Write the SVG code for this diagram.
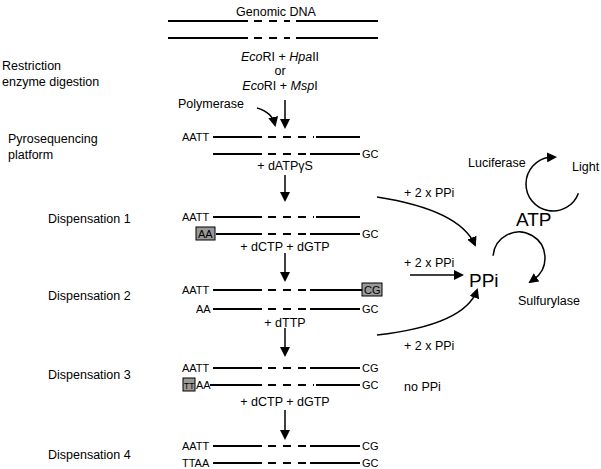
<svg xmlns="http://www.w3.org/2000/svg" width="601" height="469" viewBox="0 0 601 469">
<style>
text{font-family:"Liberation Sans",Arial,sans-serif;font-size:12.5px;fill:#000}
.s{font-size:11px}
.b{font-size:19px}
.l{stroke:#000;stroke-width:2;fill:none}
.d{stroke:#000;stroke-width:2;fill:none;stroke-dasharray:8,7}
.a{stroke:#000;stroke-width:1.5;fill:none;marker-end:url(#ah)}
.box{fill:#999;stroke:#000;stroke-width:1}
</style>
<defs>
<marker id="ah" markerWidth="10" markerHeight="10" refX="8" refY="5" orient="auto" markerUnits="userSpaceOnUse"><path d="M0,0 L10,5 L0,10 z"/></marker>
</defs>
<rect width="601" height="469" fill="#fff"/>
<g id="labels">
<text x="276" y="16" text-anchor="middle">Genomic DNA</text>
<text x="2" y="70">Restriction</text><text x="2" y="86">enzyme digestion</text>
<text x="8" y="143">Pyrosequencing</text><text x="8" y="159">platform</text>
<text x="48" y="223">Dispensation 1</text>
<text x="48" y="300">Dispensation 2</text>
<text x="48" y="379">Dispensation 3</text>
<text x="48" y="459">Dispensation 4</text>
<text x="280" y="61" text-anchor="middle"><tspan font-style="italic">Eco</tspan>RI + <tspan font-style="italic">Hpa</tspan>II</text>
<text x="280" y="75" text-anchor="middle">or</text>
<text x="280" y="90" text-anchor="middle"><tspan font-style="italic">Eco</tspan>RI + <tspan font-style="italic">Msp</tspan>I</text>
<text x="178" y="108">Polymerase</text>
<text x="285" y="170" text-anchor="middle">+ dATPγS</text>
<text x="285" y="251" text-anchor="middle">+ dCTP + dGTP</text>
<text x="285" y="327" text-anchor="middle">+ dTTP</text>
<text x="285" y="406" text-anchor="middle">+ dCTP + dGTP</text>
<text x="404" y="197">+ 2 x PPi</text>
<text x="404" y="267">+ 2 x PPi</text>
<text x="404" y="350">+ 2 x PPi</text>
<text x="404" y="391">no PPi</text>
<text x="469" y="287" class="b">PPi</text>
<text x="516" y="226" class="b">ATP</text>
<text x="468" y="167">Luciferase</text>
<text x="572" y="171">Light</text>
<text x="518" y="305">Sulfurylase</text>
</g>
<g id="genomic">
<path class="l" d="M168,21H248M296,21H378M168,38H248M296,38H378"/>
<path class="d" d="M254,21H290M254,38H290"/>
</g>
<g id="pyro">
<text x="182" y="141" class="s">AATT</text>
<path class="l" d="M213,137H262M316,137H360M213,154H262M310,154H360"/>
<path class="d" d="M268,137H314M268,154H306"/>
<text x="362" y="158" class="s">GC</text>
</g>
<g id="d1">
<text x="182" y="221" class="s">AATT</text>
<path class="l" d="M213,217H262M316,217H360M216,234H262M310,234H360"/>
<path class="d" d="M268,217H314M268,234H306"/>
<rect class="box" x="196" y="227" width="19" height="13"/><text x="198" y="238" class="s">AA</text>
<text x="362" y="238" class="s">GC</text>
</g>
<g id="d2">
<text x="182" y="294" class="s">AATT</text>
<path class="l" d="M213,290H262M310,290H362M213,309H262M310,309H360"/>
<path class="d" d="M268,290H306M268,309H306"/>
<rect class="box" x="362" y="283" width="20" height="13"/><text x="364" y="294" class="s">CG</text>
<text x="196" y="313" class="s">AA</text>
<text x="362" y="313" class="s">GC</text>
</g>
<g id="d3">
<text x="182" y="372" class="s">AATT</text>
<path class="l" d="M213,368H262M310,368H360M210,385H262M316,385H360"/>
<path class="d" d="M268,368H306M268,385H314"/>
<text x="362" y="372" class="s">CG</text>
<rect class="box" x="183" y="378" width="12" height="13"/><text x="184" y="389" style="font-size:8.5px">TT</text>
<text x="196" y="389" class="s">AA</text>
<text x="362" y="389" class="s">GC</text>
</g>
<g id="d4">
<text x="182" y="450" class="s">AATT</text>
<path class="l" d="M213,446H262M310,446H360M213,463H262M310,463H360"/>
<path class="d" d="M268,446H306M268,463H306"/>
<text x="362" y="450" class="s">CG</text>
<text x="182" y="467" class="s">TTAA</text>
<text x="362" y="467" class="s">GC</text>
</g>
<g id="connectors">
<path class="a" d="M257,108 Q272,112 275,125"/>
<path class="a" d="M285,100V127"/>
<path class="a" d="M285,175V200"/>
<path class="a" d="M285,253V280"/>
<path class="a" d="M285,328V355"/>
<path class="a" d="M285,410V438"/>
<path class="a" d="M377,197 Q460,210 475,245"/>
<path class="a" d="M410,275H462"/>
<path class="a" d="M377,335 Q465,325 477,290"/>
<path class="a" d="M578.4,193.2 A27,27 0 1 1 549.2,157.3 L555,157"/>
<path class="a" d="M493.1,255.7 A26,26 0 1 1 533.9,279.3 L530,282"/>
</g>
</svg>
